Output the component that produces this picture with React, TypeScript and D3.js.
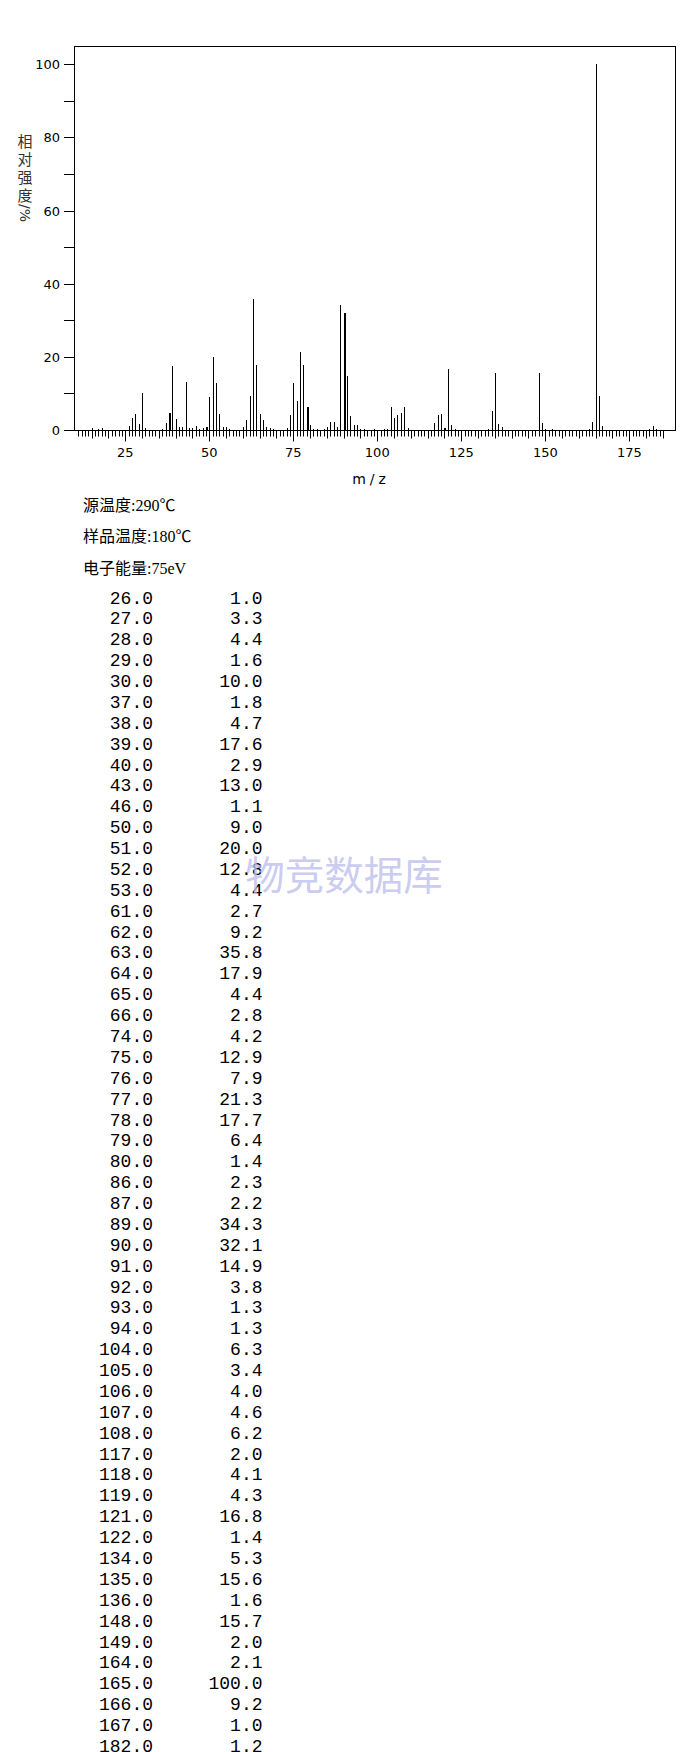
import React from "react";
import * as d3 from "d3";

// Peaks listed in the table (m/z, relative intensity %)
const tableMz = [26, 27, 28, 29, 30, 37, 38, 39, 40, 43, 46, 50, 51, 52, 53, 61, 62, 63, 64, 65, 66, 74, 75, 76, 77, 78, 79, 80, 86, 87, 89, 90, 91, 92, 93, 94, 104, 105, 106, 107, 108, 117, 118, 119, 121, 122, 134, 135, 136, 148, 149, 164, 165, 166, 167, 182];
const tableIntensity = [1.0, 3.3, 4.4, 1.6, 10.0, 1.8, 4.7, 17.6, 2.9, 13.0, 1.1, 9.0, 20.0, 12.8, 4.4, 2.7, 9.2, 35.8, 17.9, 4.4, 2.8, 4.2, 12.9, 7.9, 21.3, 17.7, 6.4, 1.4, 2.3, 2.2, 34.3, 32.1, 14.9, 3.8, 1.3, 1.3, 6.3, 3.4, 4.0, 4.6, 6.2, 2.0, 4.1, 4.3, 16.8, 1.4, 5.3, 15.6, 1.6, 15.7, 2.0, 2.1, 100.0, 9.2, 1.0, 1.2];

// Small peaks (< 1 %) visible only in the plot
const minorMz = [15, 17, 18, 31, 36, 41, 42, 44, 45, 47, 48, 49, 54, 55, 56, 60, 67, 68, 69, 73, 81, 82, 84, 85, 88, 95, 96, 99, 102, 103, 109, 120, 123, 133, 137, 150, 152, 163, 181, 183];
const minorIntensity = [0.6, 0.4, 0.6, 0.6, 0.4, 0.8, 0.8, 0.5, 0.5, 0.4, 0.5, 0.8, 0.8, 0.8, 0.4, 0.8, 0.8, 0.6, 0.4, 0.6, 0.4, 0.3, 0.3, 0.8, 0.7, 0.4, 0.3, 0.4, 0.4, 0.4, 0.5, 0.6, 0.4, 0.4, 0.8, 0.4, 0.3, 0.4, 0.4, 0.3];

const heavyPeaks = [38, 49, 79, 90, 120];

const yTicks = [0, 10, 20, 30, 40, 50, 60, 70, 80, 90, 100];
const yTickLabels = [0, 20, 40, 60, 80, 100];
const xTickLabels = [25, 50, 75, 100, 125, 150, 175];
const xTickStart = 11;
const xTickEnd = 185;

const infoLines = ["源温度:290℃", "样品温度:180℃", "电子能量:75eV"];
const yAxisTitleChars = ["相", "对", "强", "度"];
const yAxisTitleUnit = "/%";
const xAxisTitle = "m/z";
const watermark = "物竞数据库";

const W = 687;
const H = 1752;
const plot = { left: 74, right: 675, top: 46, bottom: 430 };

export default function App() {
  const x = d3.scaleLinear().domain([9.75, 188.6]).range([plot.left, plot.right]);
  const y = d3.scaleLinear().domain([0, 105]).range([plot.bottom, plot.top]);

  const peaks = [
    ...tableMz.map((m, i) => ({ m, v: tableIntensity[i] })),
    ...minorMz.map((m, i) => ({ m, v: minorIntensity[i] })),
  ];

  const crisp = (v: number) => Math.round(v) + 0.5;
  const xTicks = d3.range(xTickStart, xTickEnd + 1);
  const rowStep = 20.88;
  const rowStart = 603.5;

  return (
    <svg
      width={W}
      height={H}
      style={{ position: "absolute", left: 0, top: 0, background: "#fff" }}
      xmlns="http://www.w3.org/2000/svg"
    >
      <rect x={0} y={0} width={W} height={H} fill="#fff" />
      {/* frame */}
      <rect
        x={plot.left + 0.5}
        y={plot.top + 0.5}
        width={plot.right - plot.left}
        height={plot.bottom - plot.top}
        fill="none"
        stroke="#000"
        strokeWidth={1}
      />
      {/* y ticks */}
      {yTicks.map((t) => (
        <line
          key={"yt" + t}
          x1={plot.left - 10}
          x2={plot.left}
          y1={crisp(y(t))}
          y2={crisp(y(t))}
          stroke="#000"
        />
      ))}
      {yTickLabels.map((t) => (
        <text
          key={"yl" + t}
          x={60}
          y={y(t) + 5}
          textAnchor="end"
          fontFamily="DejaVu Sans"
          fontSize={13}
          fill="#000"
        >
          {t}
        </text>
      ))}
      {/* x ticks */}
      {xTicks.map((t) => {
        const len = t % 25 === 0 ? 11 : t % 5 === 0 ? 8 : 6;
        return (
          <line
            key={"xt" + t}
            x1={crisp(x(t))}
            x2={crisp(x(t))}
            y1={plot.bottom + 0.5}
            y2={plot.bottom + 0.5 + len}
            stroke="#000"
          />
        );
      })}
      {xTickLabels.map((t) => (
        <text
          key={"xl" + t}
          x={x(t)}
          y={456.5}
          textAnchor="middle"
          fontFamily="DejaVu Sans"
          fontSize={13}
          fill="#000"
        >
          {t}
        </text>
      ))}
      {/* peaks */}
      {peaks.map((p, i) => {
        const heavy = heavyPeaks.includes(p.m);
        const px = crisp(x(p.m));
        return (
          <line
            key={"pk" + i}
            x1={heavy ? px + 0.5 : px}
            x2={heavy ? px + 0.5 : px}
            y1={plot.bottom + 0.5}
            y2={Math.round(y(p.v))}
            stroke="#000"
            strokeWidth={heavy ? 2 : 1}
          />
        );
      })}
      {/* axis titles */}
      <text
        x={371}
        y={484}
        textAnchor="middle"
        fontFamily="DejaVu Sans"
        fontSize={14}
        letterSpacing={4}
        fill="#000"
      >
        {xAxisTitle}
      </text>
      {yAxisTitleChars.map((c, i) => (
        <text
          key={"yc" + i}
          x={25}
          y={140.5 + i * 18}
          textAnchor="middle"
          dominantBaseline="central"
          fontFamily="'Noto Sans CJK SC', sans-serif"
          fontSize={15}
          fill="#333"
        >
          {c}
        </text>
      ))}
      <text
        x={0}
        y={0}
        transform={`translate(25,${204}) rotate(90)`}
        textAnchor="start"
        dominantBaseline="central"
        fontFamily="DejaVu Sans"
        fontSize={14}
        fill="#333"
      >
        {yAxisTitleUnit}
      </text>
      {/* info lines */}
      {infoLines.map((s, i) => (
        <text
          key={"info" + i}
          x={83}
          y={510.5 + i * 31.7}
          fontFamily="'Liberation Serif', 'Noto Sans CJK SC', serif"
          fontSize={16}
          fill="#000"
        >
          {s}
        </text>
      ))}
      {/* data table */}
      {tableMz.map((m, i) => (
        <g key={"row" + i}>
          <text
            x={153}
            y={rowStart + i * rowStep}
            textAnchor="end"
            fontFamily="'Liberation Mono', monospace"
            fontSize={18}
            fill="#000"
          >
            {m.toFixed(1)}
          </text>
          <text
            x={262.5}
            y={rowStart + i * rowStep}
            textAnchor="end"
            fontFamily="'Liberation Mono', monospace"
            fontSize={18}
            fill="#000"
          >
            {tableIntensity[i].toFixed(1)}
          </text>
        </g>
      ))}
      {/* watermark */}
      <text
        x={344}
        y={890}
        textAnchor="middle"
        fontFamily="'Noto Sans CJK SC', sans-serif"
        fontSize={39.5}
        fill="rgb(190,190,236)"
        fillOpacity={0.8}
      >
        {watermark}
      </text>
    </svg>
  );
}
